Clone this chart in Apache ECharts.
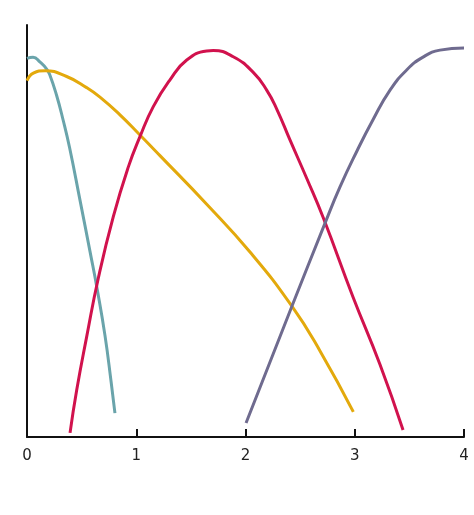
<!DOCTYPE html>
<html>
<head>
<meta charset="utf-8">
<script src="https://cdn.jsdelivr.net/npm/echarts@6/dist/echarts.min.js"></script>
<style>html,body{margin:0;padding:0;background:#fff;}#c{width:474px;height:515px;}</style>
</head>
<body>
<div id="c"></div>
<script>
var xTicks = [0, 1, 2, 3, 4];
var tealX = [0, 0.055, 0.12, 0.18, 0.21, 0.27, 0.33, 0.39, 0.485, 0.577, 0.643, 0.714, 0.769, 0.805];
var tealY = [91.9, 92.2, 91.0, 89.3, 87.8, 83.0, 77.0, 70.2, 57.5, 45.0, 35.8, 24.6, 13.6, 5.8];
var yellowX = [0, 0.058, 0.165, 0.363, 0.546, 0.668, 0.851, 1.034, 1.217, 1.645, 2.041, 2.423, 2.682, 2.987];
var yellowY = [86.5, 88.3, 88.9, 87.5, 84.8, 82.5, 78.2, 73.3, 68.3, 56.5, 44.9, 31.8, 20.9, 6.1];
var redX = [0.394, 0.455, 0.546, 0.653, 0.790, 0.927, 1.034, 1.156, 1.309, 1.462, 1.645, 1.705, 1.888, 2.071, 2.194, 2.286, 2.407, 2.560, 2.712, 2.984, 3.231, 3.442];
var redY = [1.0, 11.4, 24.3, 38.6, 53.5, 65.5, 72.9, 80.2, 86.7, 91.5, 93.7, 93.8, 92.3, 88.5, 84.2, 79.6, 72.1, 62.8, 53.2, 34.0, 17.6, 1.7];
var purpleX = [2.005, 2.423, 2.728, 2.865, 3.018, 3.167, 3.323, 3.476, 3.625, 3.78, 4.0];
var purpleY = [3.4, 31.6, 51.9, 60.7, 69.3, 77.0, 84.2, 89.1, 92.2, 93.9, 94.4];

function pairs(xs, ys) { return xs.map(function (x, i) { return [x, ys[i]]; }); }
function line(name, xs, ys, color) {
  return {
    name: name, type: 'line', data: pairs(xs, ys), smooth: 0.5,
    showSymbol: false, symbol: 'none',
    lineStyle: { color: color, width: 3 }, itemStyle: { color: color },
    silent: true, animation: false
  };
}
var chart = echarts.init(document.getElementById('c'));
chart.setOption({
  animation: false,
  grid: { left: 27, right: 10, top: 25, bottom: 78, containLabel: false },
  xAxis: {
    type: 'value', min: 0, max: 4, interval: 1,
    axisLine: { lineStyle: { color: '#111', width: 2 } },
    axisTick: { inside: true, length: 8, lineStyle: { color: '#111', width: 2 } },
    axisLabel: { fontSize: 15, color: '#222', margin: 12, fontFamily: 'DejaVu Sans',
      formatter: function (v) { return xTicks.indexOf(v) >= 0 ? String(v) : ''; } },
    splitLine: { show: false }
  },
  yAxis: {
    type: 'value', min: 0, max: 100,
    axisLine: { show: true, lineStyle: { color: '#111', width: 2 } },
    axisTick: { show: false }, axisLabel: { show: false }, splitLine: { show: false }
  },
  series: [
    line('teal', tealX, tealY, '#6aa4ab'),
    line('yellow', yellowX, yellowY, '#e3a90c'),
    line('red', redX, redY, '#d1124d'),
    line('purple', purpleX, purpleY, '#6f6b8f')
  ]
});
</script>
</body>
</html>
